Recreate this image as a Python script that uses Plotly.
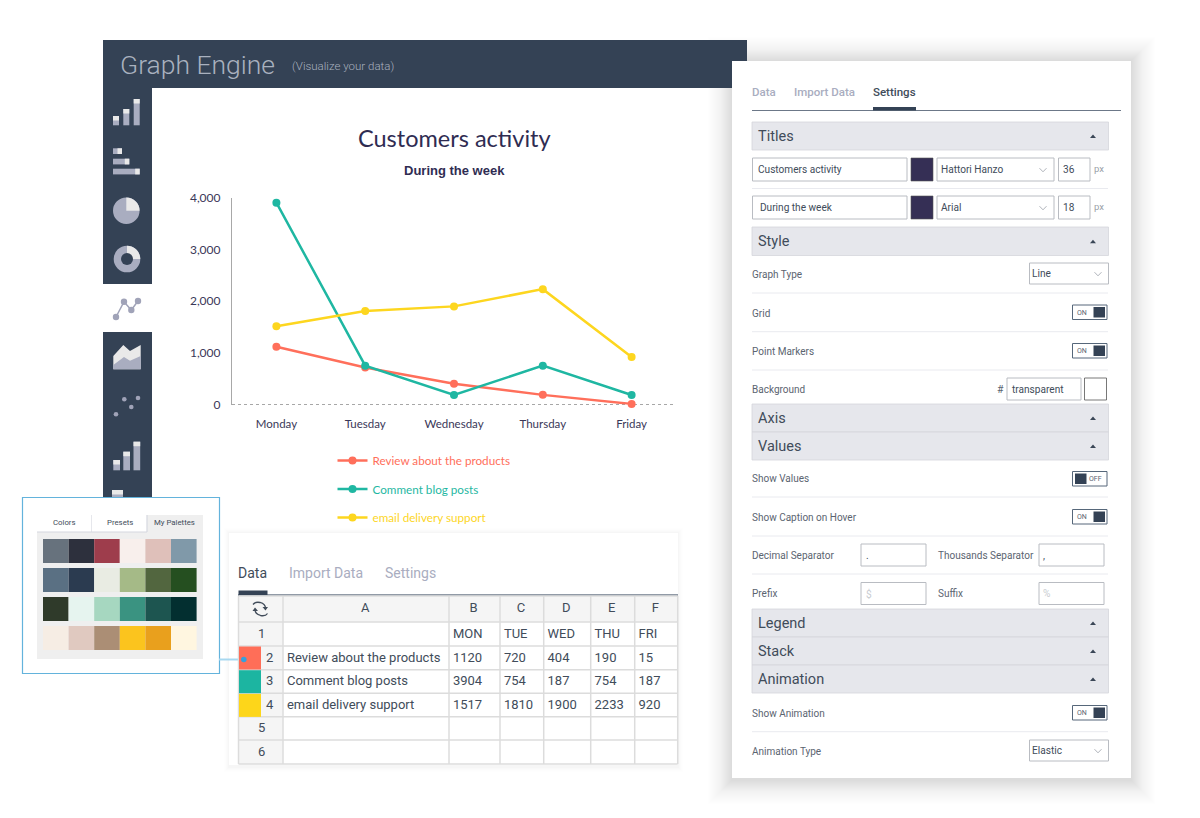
import plotly.graph_objects as go

W, H = 1200, 818

# Chart data
days = ["Monday", "Tuesday", "Wednesday", "Thursday", "Friday"]
day_codes = ["MON", "TUE", "WED", "THU", "FRI"]
series_names = ["Review about the products", "Comment blog posts", "email delivery support"]
review = [1120, 720, 404, 190, 15]
comment = [3904, 754, 187, 754, 187]
email = [1517, 1810, 1900, 2233, 920]
series_colors = ["#ff6f5b", "#1fb7a2", "#fdd61f"]
y_ticks = [0, 1000, 2000, 3000, 4000]

# Table text
col_headers = ["", "A", "B", "C", "D", "E", "F"]
row_numbers = ["1", "2", "3", "4", "5", "6"]

# Palette swatches
palette_tabs = ["Colors", "Presets", "My Palettes"]
palette_rows = [
    ["#67727d", "#2d303d", "#9e3d4c", "#f8efec", "#dfc0ba", "#8099a9"],
    ["#5a7083", "#2b3b50", "#e9ece3", "#a5ba87", "#52663f", "#254f20"],
    ["#2f3a2a", "#e6f4ef", "#a6d7c0", "#3a9381", "#1d5550", "#032f30"],
    ["#f6ede4", "#e0c9c0", "#ab8e75", "#fbc41e", "#e9a01d", "#fff6e0"],
]

NAVY = "#344255"
ICON = "#a9adc0"
ICON_LIGHT = "#e9e9e9"
CHART_TEXT = "#3a3858"
UI_TEXT = "#5b6470"
DARK_TEXT = "#414c5a"
FONT = "Roboto"
TITLE_FONT = "Lato"
NB = "\u00a0"

shapes = []
notes = []


def px(x):
    return x / W


def py(y):
    return 1 - y / H


def rect(x0, y0, x1, y1, fill, line=None, width=1, layer="below"):
    shapes.append(dict(type="rect", xref="paper", yref="paper",
                       x0=px(x0), x1=px(x1), y0=py(y0), y1=py(y1),
                       fillcolor=fill, layer=layer,
                       line=dict(color=line or "rgba(0,0,0,0)", width=width if line else 0)))


def seg(x0, y0, x1, y1, color, width=1, layer="below"):
    shapes.append(dict(type="line", xref="paper", yref="paper",
                       x0=px(x0), x1=px(x1), y0=py(y0), y1=py(y1),
                       line=dict(color=color, width=width), layer=layer))


def hline(x0, x1, y, color, width=1, layer="below"):
    seg(x0, y, x1, y, color, width, layer)


def circle(cx, cy, r, fill, layer="below"):
    shapes.append(dict(type="circle", xref="paper", yref="paper",
                       x0=px(cx - r), x1=px(cx + r), y0=py(cy - r), y1=py(cy + r),
                       fillcolor=fill, line=dict(width=0), layer=layer))


def path(cmds, fill=None, line=None, width=1, layer="below"):
    # cmds: list of (letter, x, y, ...) in screen pixels
    parts = []
    for c in cmds:
        if len(c) == 1:
            parts.append(c[0])
            continue
        nums = []
        for i in range(1, len(c), 2):
            nums.append(f"{px(c[i]):.5f},{py(c[i + 1]):.5f}")
        parts.append(c[0] + " ".join(nums))
    shapes.append(dict(type="path", xref="paper", yref="paper", path=" ".join(parts),
                       fillcolor=fill or "rgba(0,0,0,0)", layer=layer,
                       line=dict(color=line or "rgba(0,0,0,0)", width=width if line else 0)))


def poly(points, fill):
    cmds = [("M",) + points[0]] + [("L",) + p for p in points[1:]] + [("Z",)]
    path(cmds, fill=fill)


def label(x, y, text, size=10, color=UI_TEXT, anchor="left", font=FONT, weight=None):
    f = dict(family=font, size=size, color=color)
    if weight:
        f["weight"] = weight
    # left-anchored annotations land about a pixel to the right
    x = x - 1 if anchor == "left" else x
    notes.append(dict(xref="paper", yref="paper", x=px(x), y=py(y), text=text, showarrow=False,
                      xanchor=anchor, yanchor="middle", font=f, borderpad=0))


def shadow(x0, y0, x1, y1, spread, strength):
    # soft edge: the layers get denser towards the card
    for i in range(spread, 0, -1):
        alpha = strength * (0.25 + 1.5 * (1 - i / spread))
        rect(x0 - i, y0 - i, x1 + i, y1 + i + 2, f"rgba(0,0,0,{alpha:.5f})")


def wedge(cx, cy, r, fill):
    k = 0.5523 * r
    path([("M", cx, cy), ("L", cx, cy - r), ("C", cx + k, cy - r, cx + r, cy - k, cx + r, cy), ("Z",)], fill=fill)


def stacked_bar(x0, x1, top, bottom, cap=4.5):
    rect(x0, top, x1, bottom, ICON)
    rect(x0, top, x1, top + cap, ICON_LIGHT)


# Settings panel shadow goes under the dark header
shadow(732, 61, 1131, 778, 26, 0.0055)

# Main window
rect(103, 40, 747, 88, NAVY)
rect(103, 88, 152, 500, NAVY)
rect(103, 284, 152, 332, "white")
label(120, 64, "Graph Engine", size=26.5, color="#a9b1bf", weight=300)
label(292, 65.5, "(Visualize your data)", size=11.5, color="#a9b1bf", weight=300)

# Sidebar icons
for x0, top in [(113, 116), (123.3, 109), (133.7, 99)]:
    stacked_bar(x0, x0 + 6, top, 125.3)
for y0, x1 in [(148.3, 122), (158.7, 129.3), (168.7, 139.7)]:
    rect(113, y0, x1, y0 + 5.7, ICON)
    rect(x1 - 4.5, y0, x1, y0 + 5.7, ICON_LIGHT)
circle(126.3, 210.7, 13.3, ICON)
wedge(126.3, 210.7, 13.3, ICON_LIGHT)
circle(127, 259, 13.3, ICON)
wedge(127, 259, 13.3, ICON_LIGHT)
circle(127, 259, 6, NAVY)
line_icon = [(116, 317), (124, 301.7), (131.3, 310), (138, 301)]
path([("M",) + line_icon[0]] + [("L",) + p for p in line_icon[1:]], line="#a0a3b8", width=1.5)
for p in line_icon:
    circle(p[0], p[1], 3.2, "#a0a3b8")
poly([(113.3, 356), (123.3, 345), (130, 351), (140.7, 345), (140.7, 369.3), (113.3, 369.3)], ICON_LIGHT)
poly([(113.3, 365), (124, 357), (130, 360.7), (140.7, 356), (140.7, 369.3), (113.3, 369.3)], ICON)
for p in [(116, 414.3), (124.3, 399.3), (131.3, 407), (138, 398)]:
    circle(p[0], p[1], 2.3, "#a0a3b8")
for x0, top in [(113.3, 460), (123.3, 451.7), (133.5, 441.7)]:
    stacked_bar(x0, x0 + 6.7, top, 470.3)
stacked_bar(112, 123, 490, 500)

# Chart title
label(454, 138, "Customers activity", size=23.5, color="#2f2c52", anchor="center", font=TITLE_FONT)
label(454, 170, "During the week", size=13, color="#2f2c52", anchor="center",
      font="Liberation Sans", weight="bold")

# Palette popup
shadow(229, 533, 678, 765, 5, 0.008)
rect(229, 533, 678, 765, "white")
rect(22.5, 497.5, 219.5, 673.5, "white", line="#63b3dc", width=1.2)
rect(37, 515, 203, 659, "#efefef")
for i, x0 in enumerate([37, 92, 147]):
    if i < 2:
        rect(x0, 515, x0 + 55, 532, "white")
        hline(x0, x0 + 55, 532, "#d5d8df", 1.2)
        seg(x0 + 55, 515, x0 + 55, 532, "#d5d8df", 1.2)
    label(x0 + 27.5, 522.5, palette_tabs[i], size=7.8, color=DARK_TEXT, anchor="center")
for r, row in enumerate(palette_rows):
    y0 = 539 + r * 29
    for c, color in enumerate(row):
        rect(43 + c * 25.6, y0, 43 + (c + 1) * 25.6, y0 + 24, color)
hline(219, 245, 659.5, "#a8d8f0", 2)

# Data table tabs
label(238, 573, "Data", size=14, color=DARK_TEXT)
label(289, 573, "Import Data", size=14, color="#a9adc0")
label(385, 573, "Settings", size=14, color="#a9adc0")
hline(238, 678, 595, "#6c7888", 1.3)
rect(238.5, 590.5, 267.5, 595, NAVY)

# Data table grid, the text comes from the table trace below
col_edges = [238.5, 283, 449, 500, 543.7, 590.7, 634.7, 677.7]
row_edges = [596, 622, 646, 669.7, 693.3, 716.7, 740, 764]
rect(col_edges[0], row_edges[0], col_edges[-1], row_edges[1], "#f5f5f5")
rect(col_edges[0], row_edges[0], col_edges[1], row_edges[-1], "#f5f5f5")
for x in col_edges:
    seg(x, row_edges[0], x, row_edges[-1], "#dcdcdc", 1.5)
for y in row_edges:
    hline(col_edges[0], col_edges[-1], y, "#dcdcdc", 1.5)

# Settings panel
rect(732, 61, 1131, 778, "white")
label(752, 92, "Data", size=11.5, color="#a9adc0", weight=500)
label(794, 92, "Import Data", size=11.5, color="#a9adc0", weight=500)
label(873, 92, "Settings", size=11.5, color=DARK_TEXT, weight=500)
hline(752, 1121, 110.5, "#6c7888", 1)
rect(873, 107, 916, 110.5, NAVY)

section_bars = [("Titles", 122, 150), ("Style", 227, 255.5), ("Axis", 404, 432), ("Values", 432, 460),
                ("Legend", 609, 637), ("Stack", 637, 665), ("Animation", 665, 693)]
for name, y0, y1 in section_bars:
    rect(752, y0, 1108.5, y1, "#e6e7ec", line="#d4d6dc", width=0.8)
    label(758, (y0 + y1) / 2, name, size=14.5, color=DARK_TEXT)
    my = (y0 + y1) / 2
    poly([(1090, my + 2), (1096, my + 2), (1093, my - 1.5)], "#3a4656")

for y in [188.5, 293, 331.7, 370, 497, 536, 574, 731.7]:
    hline(752, 1108, y, "#e9eaef", 1)


def box(x0, y0, x1, y1, text="", color=DARK_TEXT, pad=5, line="#b9bcc2"):
    rect(x0, y0, x1, y1, "white", line=line, width=1)
    if text:
        label(x0 + pad, (y0 + y1) / 2, text, size=10.1, color=color)


def chevron(x, y):
    path([("M", x - 3.5, y - 1.8), ("L", x, y + 1.8), ("L", x + 3.5, y - 1.8)], line="#9aa0a8", width=0.8)


def toggle(y, on=True):
    rect(1072.5, y, 1107, y + 14.5, "white", line="#56677a", width=1)
    if on:
        rect(1093.5, y + 2, 1105, y + 12.5, NAVY)
        label(1076.5, y + 7.5, "ON", size=7, color=UI_TEXT)
    else:
        rect(1075, y + 2, 1086.5, y + 12.5, NAVY)
        label(1089, y + 7.5, "OFF", size=7, color=UI_TEXT)


for y0, title, font_name, size in [(158, "Customers activity", "Hattori Hanzo", "36"),
                                   (196, "During the week", "Arial", "18")]:
    box(752.5, y0, 907, y0 + 23, title, pad=5 if y0 == 158 else 7.5)
    rect(911, y0, 933, y0 + 23, "#352f55", line="#555", width=0.6)
    box(937, y0, 1054, y0 + 23, font_name, pad=4)
    chevron(1043, y0 + 12)
    box(1058.5, y0, 1090, y0 + 23, size, pad=4)
    label(1094, y0 + 11, "px", size=9.5, color="#9a9fa8")

label(752, 274, "Graph Type")
box(1029.5, 263, 1108.5, 284, "Line", pad=2.5)
chevron(1098, 274)
label(752, 313, "Grid")
toggle(305)
label(752, 351, "Point Markers")
toggle(343.5)
label(752, 389, "Background")
label(997, 389, "#", size=10.5)
box(1007, 378, 1081, 400, "transparent", pad=5)
rect(1084.5, 378, 1106.5, 400, "white", line="#555", width=0.8)
label(752, 478.5, "Show Values")
toggle(471.5, on=False)
label(752, 517, "Show Caption on Hover")
toggle(509.5)
label(752, 555, "Decimal Separator")
box(861, 544, 926, 566, ".", pad=5)
label(938, 555, "Thousands Separator")
box(1039, 544, 1104, 566, ",", pad=4)
label(752, 593.5, "Prefix")
box(861, 582.5, 926, 604.5, "$", color="#c9ccd1", pad=5)
label(938, 593.5, "Suffix")
box(1039, 582.5, 1104, 604.5, "%", color="#c9ccd1", pad=4)
label(752, 713, "Show Animation")
toggle(705.5)
label(752, 751, "Animation Type")
box(1029.5, 740, 1108.5, 761, "Elastic", pad=2.5)
chevron(1098, 751)

# Chart
fig = go.Figure()
for i, (name, vals) in enumerate(zip(series_names, [review, comment, email])):
    fig.add_trace(go.Scatter(
        x=days, y=vals, name=name, mode="lines+markers",
        line=dict(color=series_colors[i], width=2.5),
        marker=dict(color=series_colors[i], size=8),
        legend="legend" if i == 0 else f"legend{i + 1}",
        xaxis="x", yaxis="y", cliponaxis=False,
    ))

# Data table, built from the same series. Spaces are non-breaking so nothing wraps.
# The trace sits 4px left of the grid because its cell padding is fixed at 8px.
table_rows = [[""] + day_codes]
for name, vals in zip(series_names, [review, comment, email]):
    table_rows.append([name.replace(" ", NB)] + [str(v) for v in vals])
table_rows += [[""] * 6, [""] * 6]
index_col = [(NB * 8 + n) if n in ("2", "3", "4") else (NB * 3 + n) for n in row_numbers]
columns = [index_col] + [[row[c] for row in table_rows] for c in range(6)]
fig.add_trace(go.Table(
    domain=dict(x=[px(234.5), px(673.7)], y=[py(762.7), py(594.2)]),
    columnwidth=[44.5, 166, 51, 43.7, 47, 44, 43],
    header=dict(values=[(NB * 2 + h) if h else h for h in col_headers], height=26,
                fill_color="rgba(0,0,0,0)", align="center",
                line=dict(color="rgba(0,0,0,0)", width=0),
                font=dict(family=FONT, size=13, color=DARK_TEXT)),
    cells=dict(values=columns, height=23.6,
               fill_color="rgba(0,0,0,0)",
               line=dict(color="rgba(0,0,0,0)", width=0),
               align=["center"] + ["left"] * 6,
               font=dict(family=FONT, size=13, color=DARK_TEXT)),
))

# Swatches in the table's index column and the connector dot
for i, color in enumerate(["#ff6e58", "#1cb5a1", "#fdd61a"]):
    rect(239, 646.5 + i * 23.7, 261, 669.5 + i * 23.7, color, layer="above")
circle(243.8, 659.5, 2.8, "#36a0dc", layer="above")

# Refresh icon in the table's corner
path([("M", 253, 604.5), ("Q", 255.5, 601.5, 260, 602.5), ("Q", 265.5, 604, 265.5, 608.5)],
     line=DARK_TEXT, width=1.3, layer="above")
path([("M", 267.5, 613.5), ("Q", 265.5, 616.5, 260.5, 615.5), ("Q", 255, 614, 255, 609.5)],
     line=DARK_TEXT, width=1.3, layer="above")
path([("M", 262.5, 607), ("L", 265.5, 610.5), ("L", 268, 607), ("Z",)], fill=DARK_TEXT, layer="above")
path([("M", 252.5, 611), ("L", 255, 607.5), ("L", 258, 611), ("Z",)], fill=DARK_TEXT, layer="above")

shapes.append(dict(type="line", xref="x domain", yref="y", x0=0, x1=1, y0=0, y1=0,
                   line=dict(color="#8a8a8a", width=1.2, dash="dot"), layer="below"))

legend_base = dict(xanchor="left", yanchor="middle", bgcolor="rgba(0,0,0,0)", itemwidth=30,
                   tracegroupgap=0, itemclick=False, itemdoubleclick=False)
legend_y = [460.5, 489, 517.5]


def legend_style(i):
    return dict(legend_base, x=px(332.5), y=py(legend_y[i]),
                font=dict(family=TITLE_FONT, size=11.7, color=series_colors[i]))


fig.update_layout(
    width=W, height=H,
    autosize=False,
    margin=dict(l=0, r=0, t=0, b=0, autoexpand=False),
    paper_bgcolor="white",
    plot_bgcolor="rgba(0,0,0,0)",
    showlegend=True,
    legend=legend_style(0),
    legend2=legend_style(1),
    legend3=legend_style(2),
    xaxis=dict(domain=[px(232), px(676)], range=[-0.5, 4.5], type="category",
               categoryorder="array", categoryarray=days,
               showgrid=False, zeroline=False, showline=False, fixedrange=True,
               ticks="outside", ticklen=8, tickcolor="rgba(0,0,0,0)",
               tickfont=dict(family=TITLE_FONT, size=11.5, color=CHART_TEXT)),
    yaxis=dict(domain=[py(404.7), py(197.7)], range=[0, 4000], tickvals=y_ticks, tickformat=",",
               showgrid=False, zeroline=False, showline=True, linecolor="#a8a8a8", linewidth=1.2,
               fixedrange=True, ticks="outside", ticklen=8, tickcolor="rgba(0,0,0,0)",
               tickfont=dict(family=TITLE_FONT, size=12, color=CHART_TEXT)),
    shapes=shapes,
    annotations=notes,
)

fig.write_html("out.html", config=dict(displayModeBar=False),
               post_script="document.body.style.margin='0';")
